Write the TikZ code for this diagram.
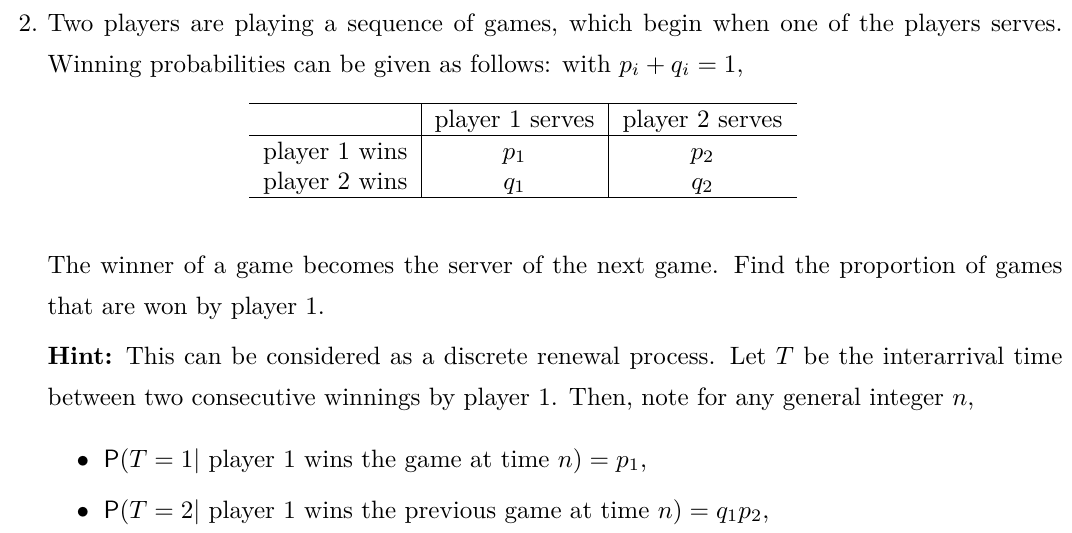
\documentclass[tikz,border=0pt]{standalone}
\usepackage{amsmath}
\newlength\refwd
\begin{document}
\settowidth\refwd{Winning probabilities can be given as follows: with $p_i+q_i=1$,}%
\pgfmathsetmacro\s{696/\the\refwd}%
\pgfmathsetmacro\W{1015/\s}%
\begin{tikzpicture}[x=1pt,y=-1pt]
\tikzset{
  ln/.style={anchor=base west,inner sep=0pt,scale=\s,transform shape},
  tc/.style={anchor=base,inner sep=0pt,scale=\s,transform shape},
  tr/.style={anchor=base east,inner sep=0pt,scale=\s,transform shape}}
\useasboundingbox (0,0) rectangle (1072,533);
\node[ln] (n2) at (18,31) {2.};
\node[ln] (l1) at (47,31) {\hbox to \W pt{Two players are playing a sequence of games, which begin when one of the players serves.}};
\node[ln] (l2) at (47,72) {Winning probabilities can be given as follows: with $p_i+q_i=1$,};
% table
\draw[line width=1pt] (249,103) -- (797,103);
\draw[line width=0.8pt] (249,135) -- (797,135);
\draw[line width=1pt] (249,197) -- (797,197);
\draw[line width=0.8pt] (421,103) -- (421,197);
\draw[line width=0.8pt] (608,103) -- (608,197);
\node[tc] (h1) at (514.5,127) {player 1 serves};
\node[tc] (h2) at (702.5,127) {player 2 serves};
\node[tr] (r1) at (408,159) {player 1 wins};
\node[tr] (r2) at (408,189) {player 2 wins};
\node[tc] (a) at (514.5,159) {$p_1$};
\node[tc] (b) at (702.5,159) {$p_2$};
\node[tc] (c) at (514.5,189) {$q_1$};
\node[tc] (d) at (702.5,189) {$q_2$};
\node[ln] (l3) at (47,273) {\hbox to \W pt{The winner of a game becomes the server of the next game. Find the proportion of games}};
\node[ln] (l4) at (47,314) {that are won by player 1.};
\node[ln] (l5) at (47,364) {\hbox to \W pt{\textbf{Hint:} This can be considered as a discrete renewal process. Let $T$ be the interarrival time}};
\node[ln] (l6) at (47,405) {between two consecutive winnings by player 1. Then, note for any general integer $n$,};
\node[ln] (b1) at (76,467) {$\bullet$};
\node[ln] (l7) at (103,467) {$\mathsf{P}(T=1|$ player 1 wins the game at time $n)=p_1$,};
\node[ln] (b2) at (76,518) {$\bullet$};
\node[ln] (l8) at (103,518) {$\mathsf{P}(T=2|$ player 1 wins the previous game at time $n)=q_1p_2$,};
\end{tikzpicture}
\end{document}
